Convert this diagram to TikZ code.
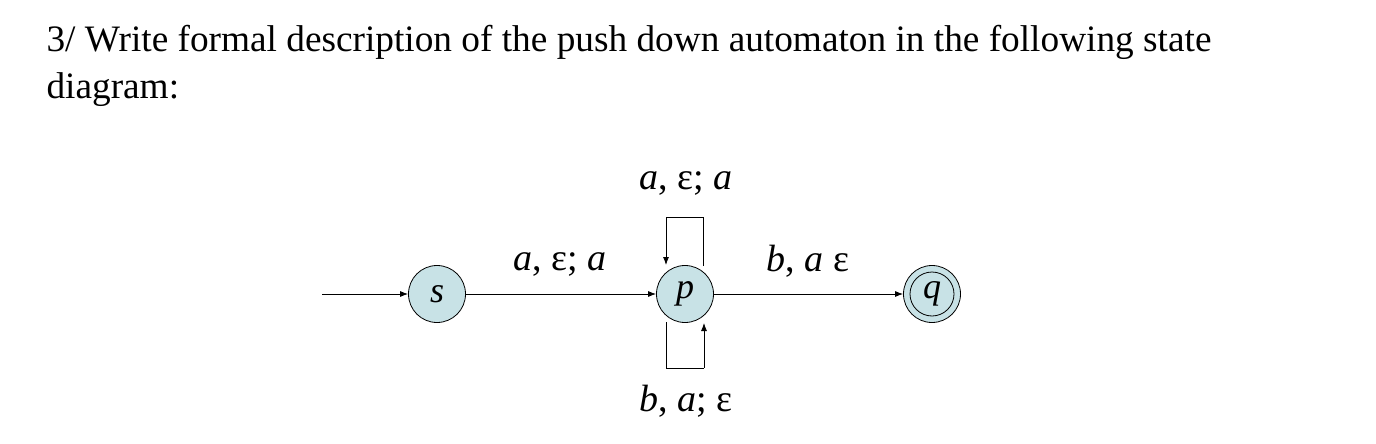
\documentclass[tikz,border=0pt]{standalone}
\usepackage{fontspec}
\setmainfont{Liberation Serif}
\usetikzlibrary{arrows.meta}
\begin{document}
\begin{tikzpicture}[x=1pt,y=-1pt,
  st/.style={circle,draw,line width=0.8pt,fill=stfill,minimum size=57pt,inner sep=0pt,font=\fontsize{36}{36}\selectfont\itshape},
  ed/.style={-{Latex[length=8pt,width=6pt]},line width=0.8pt},
  lb/.style={font=\fontsize{38}{38}\selectfont},
  ln/.style={line width=0.8pt}]
\definecolor{stfill}{HTML}{C8E2E6}
\useasboundingbox (0,0) rectangle (1376,444);
\node[anchor=base west,align=left,font=\fontsize{37.3}{48}\selectfont] (title) at (43,52)
  {3/ Write formal description of the push down automaton in the following state};
\node[anchor=base west,font=\fontsize{37.3}{48}\selectfont] (title2) at (43,98) {diagram:};
\node[st] (s) at (437,294) {s};
\node[st] (p) at (685,294) {p};
\node[st] (q) at (932,294) {};
\node[circle,draw,line width=0.8pt,minimum size=44pt,inner sep=0pt,font=\fontsize{36}{36}\selectfont\itshape] (ql) at (932,294) {q};
\coordinate (init) at (322,294);
\draw[ed] (init) -- (s);
\draw[ed] (s) -- (p);
\draw[ed] (p) -- (q);
\coordinate (t1) at (703,266);
\coordinate (t2) at (703,217);
\coordinate (t3) at (666,217);
\coordinate (t4) at (666,265);
\draw[ln] (t1) -- (t2) -- (t3);
\draw[ed] (t3) -- (t4);
\coordinate (b1) at (666,322);
\coordinate (b2) at (666,368);
\coordinate (b3) at (704,368);
\coordinate (b4) at (704,323);
\draw[ln] (b1) -- (b2) -- (b3);
\draw[ed] (b3) -- (b4);
\node[lb] (l1) at (686,183) {\textit{a}, ε; \textit{a}};
\node[lb] (l2) at (560,264) {\textit{a}, ε; \textit{a}};
\node[lb] (l3) at (808,261) {\textit{b}, \textit{a} ε};
\node[lb] (l4) at (686,401) {\textit{b}, \textit{a}; ε};
\end{tikzpicture}
\end{document}
